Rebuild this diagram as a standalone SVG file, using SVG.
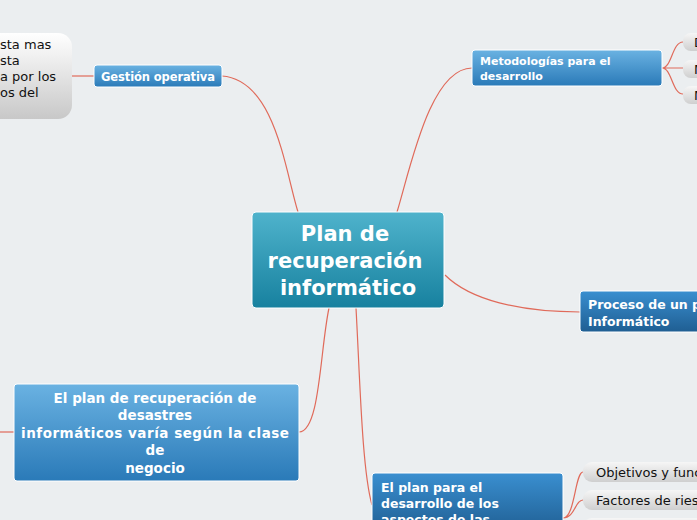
<svg xmlns="http://www.w3.org/2000/svg" width="697" height="520" viewBox="0 0 697 520">
<defs>
<linearGradient id="gb" x1="0" y1="0" x2="0" y2="1"><stop offset="0" stop-color="#6ab2e2"/><stop offset="1" stop-color="#2a7ab8"/></linearGradient>
<linearGradient id="gc" x1="0" y1="0" x2="0" y2="1"><stop offset="0" stop-color="#4fb3cc"/><stop offset="1" stop-color="#17819f"/></linearGradient>
<linearGradient id="gd" x1="0" y1="0" x2="0" y2="1"><stop offset="0" stop-color="#3a8fd0"/><stop offset="1" stop-color="#1f5e92"/></linearGradient>
<linearGradient id="gw" x1="0" y1="0" x2="0" y2="1"><stop offset="0" stop-color="#ffffff"/><stop offset="1" stop-color="#c8c8c8"/></linearGradient>
<linearGradient id="gs" x1="0" y1="0" x2="0" y2="1"><stop offset="0" stop-color="#f6f6f6"/><stop offset="1" stop-color="#cfcfcf"/></linearGradient>
</defs>
<style>
.w{fill:#fff;font-family:"DejaVu Sans",sans-serif;font-weight:bold}
.k{fill:#111;font-family:"DejaVu Sans",sans-serif}
.c{fill:none;stroke:#e06a5a;stroke-width:1.2}
.b{stroke:#fff;stroke-width:1}
</style>
<rect width="697" height="520" fill="#ebeef0"/>
<g id="connectors">
<path class="c" d="M298 212 C285 170 275 80 222 76"/>
<path class="c" d="M94 76 H72"/>
<path class="c" d="M397 212 C410 170 430 68 472 68"/>
<path class="c" d="M662 68 C672 68 672 42 683 42 M662 68 H683 M662 68 C672 68 672 94 683 94"/>
<path class="c" d="M445 275 C470 300 520 312 580 312"/>
<path class="c" d="M329 308 C320 350 320 432 299 432"/>
<path class="c" d="M14 432 H0"/>
<path class="c" d="M356 308 C360 380 362 470 372 505"/>
<path class="c" d="M563 518 C575 518 575 472 583 472 M563 518 C575 518 575 500 583 500"/>
</g>
<g id="central"><rect class="b" x="252" y="212" width="192" height="96" rx="4" fill="url(#gc)"/>
<text class="w" font-size="21" text-anchor="middle"><tspan x="345" y="241">Plan de</tspan><tspan x="345" y="268">recuperación</tspan><tspan x="348" y="295">informático</tspan></text></g>
<g id="gestion"><rect class="b" x="94" y="65" width="128" height="22" rx="3" fill="url(#gb)"/><text class="w" x="101" y="81" font-size="11.5" textLength="114">Gestión operativa</text></g>
<g id="nota"><rect x="-20" y="33" width="92" height="86" rx="14" fill="url(#gw)"/>
<text class="k" font-size="13"><tspan x="0" y="49">sta mas</tspan><tspan x="0" y="65">sta</tspan><tspan x="0" y="81">a por los</tspan><tspan x="0" y="97">os del</tspan></text></g>
<g id="metodologias"><rect class="b" x="472" y="50" width="190" height="36" rx="3" fill="url(#gb)"/>
<text class="w" font-size="11"><tspan x="480" y="65">Metodologías para el</tspan><tspan x="480" y="80">desarrollo</tspan></text></g>
<g id="m1"><rect x="683" y="33" width="30" height="18" rx="8" fill="url(#gs)"/><text class="k" x="694" y="47" font-size="13">D</text></g>
<g id="m2"><rect x="683" y="60" width="30" height="18" rx="8" fill="url(#gs)"/><text class="k" x="694" y="74" font-size="13">M</text></g>
<g id="m3"><rect x="683" y="86" width="30" height="18" rx="8" fill="url(#gs)"/><text class="k" x="694" y="100" font-size="13">M</text></g>
<g id="proceso"><rect class="b" x="580" y="291" width="130" height="41" rx="3" fill="url(#gd)"/>
<text class="w" font-size="12.5"><tspan x="588" y="309">Proceso de un p</tspan><tspan x="588" y="326">Informático</tspan></text></g>
<g id="plan-rec"><rect class="b" x="14" y="384" width="285" height="97" rx="3" fill="url(#gb)"/>
<text class="w" font-size="13.5" text-anchor="middle"><tspan x="155" y="403">El plan de recuperación de</tspan><tspan x="155" y="420">desastres</tspan><tspan x="155" y="438" textLength="268">informáticos varía según la clase</tspan><tspan x="155" y="455">de</tspan><tspan x="155" y="473">negocio</tspan></text></g>
<g id="plan-des"><rect class="b" x="372" y="473" width="191" height="60" rx="3" fill="url(#gd)"/>
<text class="w" font-size="12.5"><tspan x="381" y="492">El plan para el</tspan><tspan x="381" y="508">desarrollo de los</tspan><tspan x="381" y="524">aspectos de las</tspan></text></g>
<g id="objetivos"><rect x="583" y="462" width="130" height="20" rx="9" fill="url(#gs)"/><text class="k" x="596" y="477" font-size="13">Objetivos y func</text></g>
<g id="factores"><rect x="583" y="490" width="130" height="20" rx="9" fill="url(#gs)"/><text class="k" x="596" y="505" font-size="13">Factores de ries</text></g>
<g id="tercero"><rect x="583" y="518" width="130" height="20" rx="9" fill="url(#gs)"/></g>
</svg>
